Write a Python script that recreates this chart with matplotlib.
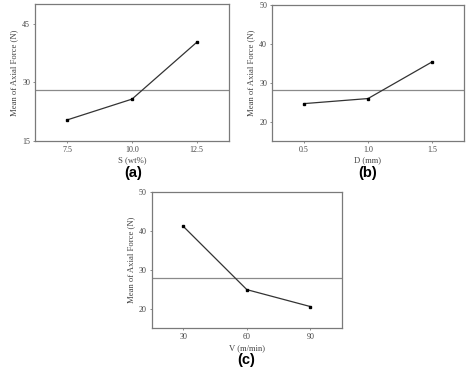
import numpy as np
import matplotlib.pyplot as plt

s_levels = [7.5, 10.0, 12.5]
s_force = [20.4, 25.7, 40.2]
d_levels = [0.5, 1.0, 1.5]
d_force = [24.6, 25.9, 35.3]
v_levels = [30, 60, 90]
v_force = [41.2, 24.95, 20.6]
grand_mean = 28.0

plt.rcParams['font.family'] = ['Liberation Serif', 'DejaVu Serif']
W, H = 474, 373
fig = plt.figure(figsize=(W / 100, H / 100), dpi=100)

frame = "#7a7a7a"


def panel(rect, x, y, xlim, xticks, xticklabels, yticks, xlabel, tag, tag_xy):
    l, t, r, b = rect
    ax = fig.add_axes([l / W, 1 - b / H, (r - l) / W, (b - t) / H])
    ax.axhline(grand_mean, color="#8a8a8a", lw=0.9)
    ax.plot(x, y, color="#333333", lw=0.9, marker="s", ms=1.9,
            mfc="black", mec="black")
    ax.set_xlim(*xlim)
    ax.set_ylim(15, 50)
    ax.set_xticks(xticks)
    ax.set_xticklabels(xticklabels)
    ax.set_yticks(yticks)
    for sp in ax.spines.values():
        sp.set_color(frame)
        sp.set_linewidth(0.9)
    ax.tick_params(length=1.5, width=0.6, color=frame, labelsize=5.8,
                   labelcolor="#444444", pad=2)
    ax.set_xlabel(xlabel, fontsize=6.2, color="#444444", labelpad=2)
    ax.set_ylabel("Mean of Axial Force (N)", fontsize=6.2, color="#444444",
                  labelpad=3)
    fig.text(tag_xy[0] / W, 1 - tag_xy[1] / H, tag, ha="center", va="center",
             fontsize=10.5, fontweight="bold", family="Liberation Sans")
    return ax


panel((35, 4, 229, 141), s_levels, s_force, (6.25, 13.75), s_levels,
      ["7.5", "10.0", "12.5"], [15, 30, 45], "S (wt%)", "(a)", (133, 173))
panel((272, 4.7, 464, 141), d_levels, d_force, (0.25, 1.75), d_levels,
      ["0.5", "1.0", "1.5"], [20, 30, 40, 50], "D (mm)", "(b)", (368, 173))
panel((151.7, 192.3, 342, 328.3), v_levels, v_force, (15, 105), v_levels,
      ["30", "60", "90"], [20, 30, 40, 50], "V (m/min)", "(c)", (246, 360))

fig.savefig("out.png", dpi=100)
